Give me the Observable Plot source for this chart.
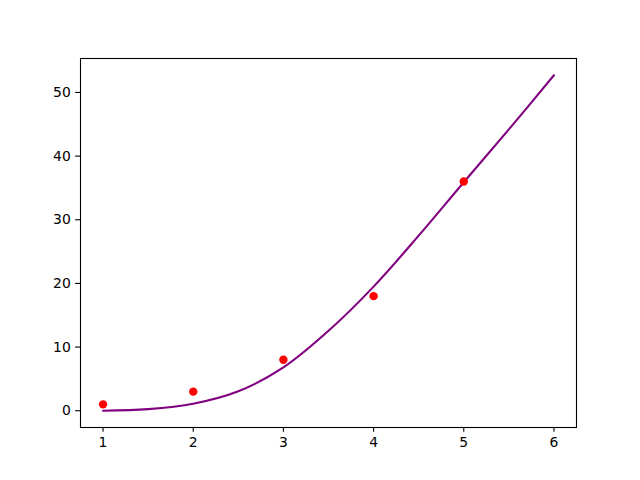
<!DOCTYPE html>
<html>
<head>
<meta charset="utf-8">
<script src="https://cdn.jsdelivr.net/npm/d3@7"></script>
<script src="https://cdn.jsdelivr.net/npm/@observablehq/plot@0.6"></script>
<style>
  html, body { margin: 0; padding: 0; background: #fff; }
  svg { display: block; }
</style>
</head>
<body>
<div id="chart"></div>
<script>
// Observed data points
const pointX = [1, 2, 3, 4, 5];
const pointY = [1, 3, 8, 18, 36];

// Fitted curve, values
const curveX = [1, 1.5, 2, 2.5, 3, 3.5, 4, 4.5, 5, 5.5, 6];
const curveY = [0, 0.25, 1.1, 3.05, 6.8, 12.55, 19.5, 27.5, 35.9, 44.2, 52.7];

const xTicks = [1, 2, 3, 4, 5, 6];
const yTicks = [0, 10, 20, 30, 40, 50];

const points = pointX.map((x, i) => ({x, y: pointY[i]}));
const curve = curveX.map((x, i) => ({x, y: curveY[i]}));

const font = "DejaVu Sans, sans-serif";
const tickLen = 4.86;

const chart = Plot.plot({
  width: 640,
  height: 480,
  marginLeft: 80,
  marginRight: 64,
  marginTop: 58,
  marginBottom: 53,
  style: {fontFamily: font, fontSize: "13.9px", color: "#000", background: "#fff"},
  x: {domain: [0.75, 6.25], ticks: xTicks},
  y: {domain: [-2.635, 55.335], ticks: yTicks},
  marks: [
    Plot.frame({stroke: "#000", strokeWidth: 1.1}),
    Plot.axisX(xTicks, {tickSize: tickLen, tickPadding: 4.86, tickFormat: d => String(d), fontSize: 13.9, stroke: "#000", strokeWidth: 1.1, label: null}),
    Plot.axisY(yTicks, {tickSize: tickLen, tickPadding: 4.86, tickFormat: d => String(d), fontSize: 13.9, stroke: "#000", strokeWidth: 1.1, label: null}),
    Plot.line(curve, {x: "x", y: "y", stroke: "purple", strokeWidth: 2.08, curve: "catmull-rom"}),
    Plot.dot(points, {x: "x", y: "y", r: 4.2, fill: "red", stroke: "none"})
  ]
});
document.getElementById("chart").appendChild(chart);
</script>
</body>
</html>
